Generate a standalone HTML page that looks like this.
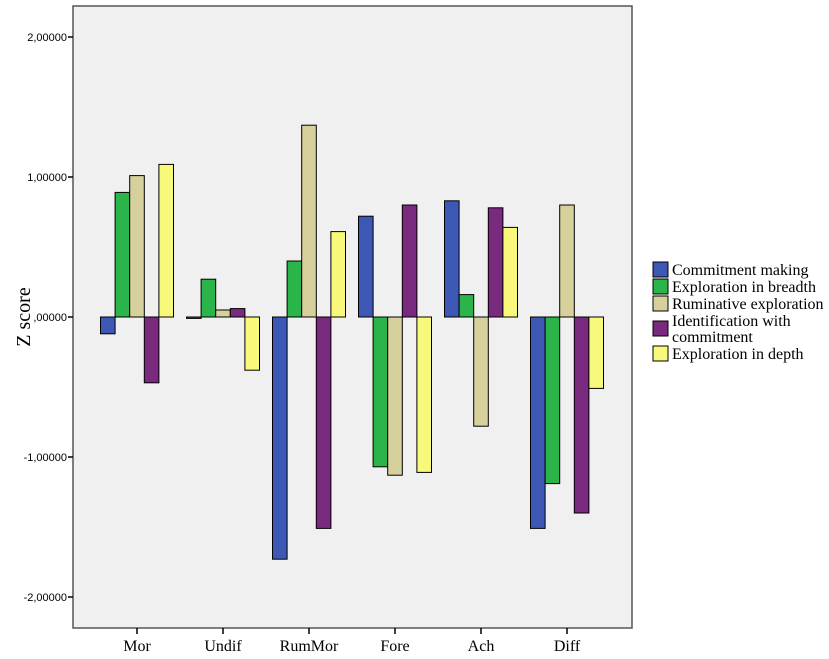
<!DOCTYPE html>
<html><head><style>body{margin:0;background:#fff}</style></head><body>
<svg width="829" height="654" xmlns="http://www.w3.org/2000/svg">
<rect x="73" y="6" width="559" height="622" fill="#f0f0f0" stroke="#555" stroke-width="1.5"/>
<g font-family="Liberation Sans, sans-serif" font-size="11" text-anchor="end" fill="#000">
<text x="67" y="41">2,00000</text><text x="67" y="181">1,00000</text><text x="67" y="321">,00000</text><text x="67" y="461">-1,00000</text><text x="67" y="601">-2,00000</text>
</g>
<g stroke="#000" stroke-width="1.5">
<line x1="68" y1="37" x2="73" y2="37"/><line x1="68" y1="177" x2="73" y2="177"/><line x1="68" y1="317" x2="73" y2="317"/><line x1="68" y1="457" x2="73" y2="457"/><line x1="68" y1="597" x2="73" y2="597"/>
<line x1="137" y1="628" x2="137" y2="634"/><line x1="223" y1="628" x2="223" y2="634"/><line x1="309" y1="628" x2="309" y2="634"/><line x1="395" y1="628" x2="395" y2="634"/><line x1="481" y1="628" x2="481" y2="634"/><line x1="567" y1="628" x2="567" y2="634"/>
</g>
<g font-family="Liberation Serif, serif" font-size="16" text-anchor="middle">
<text x="137" y="651">Mor</text><text x="223" y="651">Undif</text><text x="309" y="651">RumMor</text><text x="395" y="651">Fore</text><text x="481" y="651">Ach</text><text x="567" y="651">Diff</text>
</g>
<text transform="translate(30,317) rotate(-90)" font-family="Liberation Serif, serif" font-size="20" text-anchor="middle">Z score</text>
<g id="bars" stroke="#000" stroke-width="1"></g>
<g font-family="Liberation Serif, serif" font-size="16" stroke="#000">
<rect x="653" y="262" width="15" height="15" fill="#3c58b4"/>
<rect x="653" y="279" width="15" height="15" fill="#2ab44a"/>
<rect x="653" y="296" width="15" height="15" fill="#d6d09c"/>
<rect x="653" y="321" width="15" height="15" fill="#7a2a7e"/>
<rect x="653" y="346" width="15" height="15" fill="#f8f87a"/>
<g stroke="none"><text x="672" y="275">Commitment making</text><text x="672" y="292">Exploration in breadth</text><text x="672" y="309">Ruminative exploration</text><text x="672" y="326">Identification with</text><text x="672" y="342">commitment</text><text x="672" y="359">Exploration in depth</text></g>
</g>
</svg>
<script>
var d=[[-.12,.89,1.01,-.47,1.09],[-.01,.27,.05,.06,-.38],[-1.73,.40,1.37,-1.51,.61],[.72,-1.07,-1.13,.80,-1.11],[.83,.16,-.78,.78,.64],[-1.51,-1.19,.80,-1.40,-.51]];
var c=["#3c58b4","#2ab44a","#d6d09c","#7a2a7e","#f8f87a"];
var g=document.getElementById("bars"),s="";
d.forEach(function(r,i){var cx=137+86*i;r.forEach(function(v,j){var x=cx-36.5+14.6*j,y=v>0?317-v*140:317,h=Math.max(Math.abs(v)*140,1);s+='<rect x="'+x+'" y="'+y+'" width="14.6" height="'+h+'" fill="'+c[j]+'"/>';});});
g.innerHTML=s;
</script>
</body></html>
